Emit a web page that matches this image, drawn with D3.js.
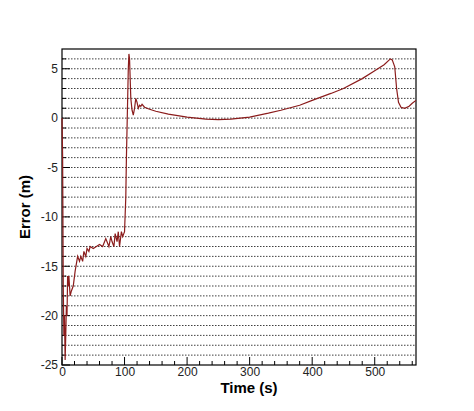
<!DOCTYPE html><html><head><meta charset="utf-8"><script src="https://d3js.org/d3.v7.min.js"></script>
<style>body{margin:0;background:#fff}</style></head><body><svg id="c" width="474" height="411"></svg>
<script>
const times=[0,1,2,3,4,5,6,7,8,9,10,11,13,15,18,21,25,28,30,33,35,38,40,43,45,50,55,60,65,70,75,78,80,83,85,88,90,92,95,97,100,102,103,104,105,106,107,108,109,110,112,114,116,118,120,122,124,126,128,132,140,150,170,200,230,250,270,300,330,350,380,400,430,450,480,500,515,525,528,532,535,538,542,548,555,560,566];
const errors=[0,-4,-17,-22,-20,-24.5,-22,-19,-20,-16,-17,-16,-18,-17.5,-17,-15.5,-14,-14.5,-14,-14.5,-13.5,-14,-13.2,-13.5,-13,-13.2,-13,-12.8,-13,-12.2,-13,-12,-12.5,-13,-11.7,-12.5,-11.5,-13,-11.5,-12,-11.5,-8,-4,-1,2,5,6.5,6,4,2,0.8,0.3,1,2,1.6,1,1.3,1.2,1.4,1.1,0.9,0.7,0.4,0.1,-0.1,-0.15,-0.1,0.1,0.5,0.8,1.3,1.8,2.5,3,4,4.8,5.4,6,5.9,5.2,3,1.6,1.1,1.0,1.2,1.5,1.8];
const xTicks=[0,100,200,300,400,500];
const yTicks=[5,0,-5,-10,-15,-20,-25];
const svg=d3.select("#c");
const L=62,R=416,T=49,B=365;
const x=d3.scaleLinear().domain([0,566]).range([L,R]);
const y=d3.scaleLinear().domain([-25,7]).range([B,T]);
const g=svg.append("g");
d3.range(-24,7).forEach(v=>{g.append("line").attr("x1",L).attr("x2",R).attr("y1",y(v)).attr("y2",y(v)).attr("stroke","#000").attr("stroke-width",1).attr("stroke-dasharray","1.5,1.5").attr("opacity",0.75);});
svg.append("g").attr("transform",`translate(0,${B})`).call(d3.axisBottom(x).tickValues(xTicks).tickSize(0).tickPadding(2)).call(a=>a.select(".domain").remove()).selectAll("text").attr("font-family","Liberation Sans, Arial").attr("font-size",12).attr("fill","#222");
svg.append("g").attr("transform",`translate(${L},0)`).call(d3.axisLeft(y).tickValues(yTicks).tickFormat(d=>String(d)).tickSize(0).tickPadding(4)).call(a=>a.select(".domain").remove()).selectAll("text").attr("font-family","Liberation Sans, Arial").attr("font-size",12).attr("fill","#222");
d3.range(0,561,20).forEach(v=>{const s=v%100===0?8:4;svg.append("line").attr("x1",x(v)).attr("x2",x(v)).attr("y1",B).attr("y2",B-s).attr("stroke","#000");});
d3.range(-25,7,1).forEach(v=>{const s=v%5===0?8:4;svg.append("line").attr("x1",L).attr("x2",L+s).attr("y1",y(v)).attr("y2",y(v)).attr("stroke","#000");});
svg.append("rect").attr("x",L).attr("y",T).attr("width",R-L).attr("height",B-T).attr("fill","none").attr("stroke","#000").attr("stroke-width",1.2);
const line=d3.line().x((d,i)=>x(times[i])).y(d=>y(d));
svg.append("path").datum(errors).attr("d",line).attr("fill","none").attr("stroke","#8b1c1c").attr("stroke-width",1.2);
svg.append("text").attr("x",(L+R)/2+10).attr("y",393).attr("text-anchor","middle").attr("font-family","Liberation Sans, Arial").attr("font-weight","bold").attr("font-size",15).text("Time (s)");
svg.append("text").attr("transform",`translate(30,${(T+B)/2}) rotate(-90)`).attr("text-anchor","middle").attr("font-family","Liberation Sans, Arial").attr("font-weight","bold").attr("font-size",15).text("Error (m)");
</script></body></html>
